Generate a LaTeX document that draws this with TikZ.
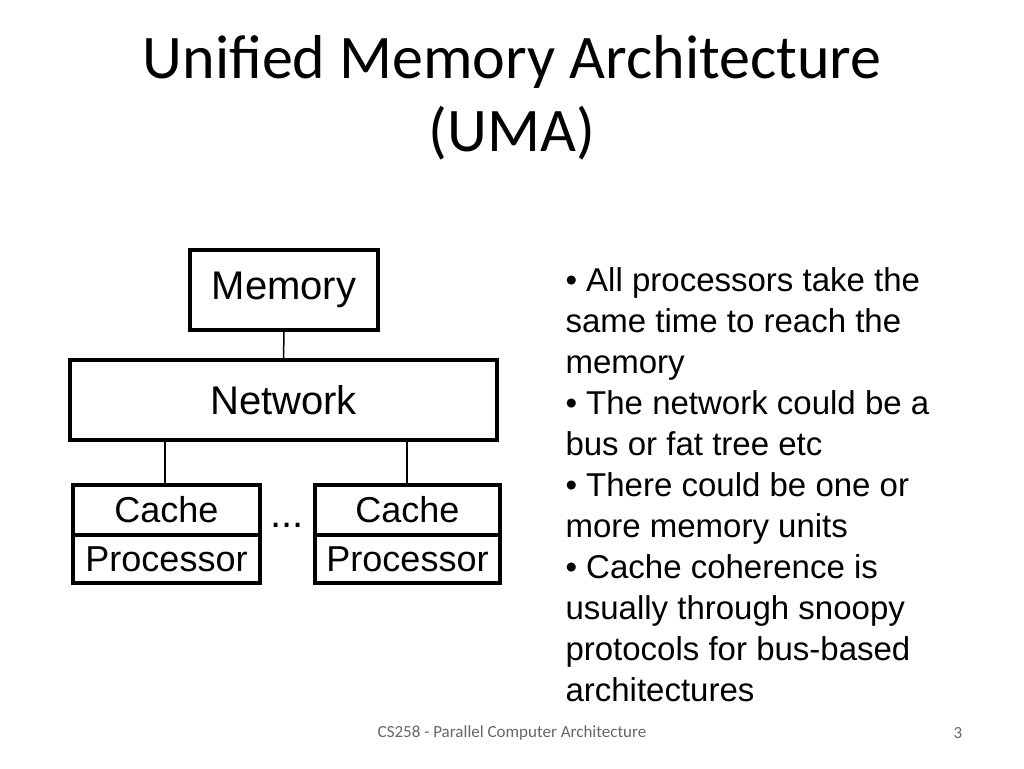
\documentclass[tikz,border=0pt]{standalone}
\usepackage{fontspec}
\setmainfont{Carlito}
\newfontfamily\arial{Liberation Sans}
\begin{document}
\begin{tikzpicture}[x=1pt,y=-1pt,
  box/.style={draw,line width=3.5pt,inner sep=0pt,font=\arial\fontsize{40}{42}\selectfont},
  sbox/.style={box,font=\arial\fontsize{36}{38}\selectfont},
  wire/.style={line width=1.5pt},
  bul/.style={anchor=west,font=\arial\fontsize{33}{41}\selectfont,align=left}]
\useasboundingbox (0,0) rectangle (1024,768);
\node[font=\fontsize{62}{73}\selectfont,align=center] (title) at (512,98) {Unified Memory Architecture\\(UMA)};
\node[box,minimum width=188pt,minimum height=80pt] (mem) at (284,290) {Memory};
\node[box,minimum width=427pt,minimum height=80pt] (net) at (283.5,400) {Network};
\node[sbox,minimum width=187pt,minimum height=50pt] (c1) at (166.5,510) {Cache};
\node[sbox,minimum width=187pt,minimum height=48pt] (p1) at (166.5,559) {Processor};
\node[sbox,minimum width=185pt,minimum height=50pt] (c2) at (407.5,510) {Cache};
\node[sbox,minimum width=185pt,minimum height=48pt] (p2) at (407.5,559) {Processor};
\node[font=\arial\fontsize{40}{42}\selectfont] (dots) at (287,525) {...};
\draw[wire] (mem.south) -- (net.north);
\draw[wire] (net.south -| 165,0) -- (c1.north -| 165,0);
\draw[wire] (net.south -| 407,0) -- (c2.north -| 407,0);
\node[bul,anchor=north west] (txt) at (562,264) {\textbullet\ All processors take the\\same time to reach the\\memory\\\textbullet\ The network could be a\\bus or fat tree etc\\\textbullet\ There could be one or\\more memory units\\\textbullet\ Cache coherence is\\usually through snoopy\\protocols for bus-based\\architectures};
\node[font=\fontsize{17}{19}\selectfont,text=black!60] (foot) at (512,733) {CS258 - Parallel Computer Architecture};
\node[font=\fontsize{17}{19}\selectfont,text=black!60] (pg) at (958,733) {3};
\end{tikzpicture}
\end{document}
